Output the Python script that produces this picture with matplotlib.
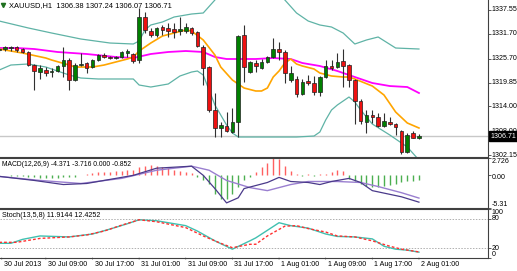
import matplotlib

matplotlib.use("Agg")
import matplotlib.pyplot as plt

plt.rcParams["font.family"] = ["Liberation Sans", "DejaVu Sans"]

W, H = 517, 271

# ---- candles (XAUUSD H1), bar 0 = 30 Jul 01:00 ----
opens = [1327.79, 1328.03, 1328.27, 1328.52, 1328.03, 1327.30, 1324.12, 1322.41, 1322.90, 1322.41,
         1322.66, 1323.88, 1325.34, 1320.46, 1324.12, 1324.61, 1323.63, 1325.34, 1326.56, 1326.05,
         1325.95, 1326.08, 1327.05, 1326.81, 1325.34, 1335.84, 1332.42, 1331.45, 1333.40, 1333.16,
         1332.91, 1332.42, 1332.42, 1333.16, 1332.18, 1328.52, 1323.63, 1313.14, 1308.75, 1309.23,
         1307.77, 1310.21, 1331.45, 1322.41, 1324.61, 1323.39, 1324.86, 1326.08, 1328.03, 1327.30,
         1320.46, 1320.71, 1317.04, 1320.22, 1319.73, 1317.53, 1321.19, 1323.88, 1323.63, 1325.10,
         1324.12, 1320.46, 1315.34, 1310.21, 1311.92, 1311.43, 1309.23, 1310.21, 1309.72, 1308.01,
         1302.89, 1307.53, 1306.38]
highs = [1328.52, 1328.76, 1328.76, 1328.76, 1328.27, 1327.54, 1324.37, 1324.12, 1323.63, 1323.39,
         1324.12, 1328.52, 1325.83, 1324.61, 1327.05, 1324.86, 1325.59, 1326.81, 1327.05, 1326.32,
         1326.32, 1327.54, 1328.03, 1327.05, 1338.04, 1337.06, 1333.16, 1333.40, 1333.89, 1334.38,
         1334.38, 1335.84, 1334.38, 1333.40, 1332.42, 1329.01, 1323.88, 1317.29, 1310.21, 1312.65,
         1313.63, 1331.45, 1333.89, 1325.10, 1325.34, 1325.59, 1326.32, 1330.71, 1329.74, 1327.79,
         1323.88, 1321.44, 1320.71, 1321.68, 1321.44, 1321.44, 1325.34, 1325.34, 1327.05, 1328.03,
         1324.37, 1320.71, 1315.82, 1313.14, 1313.14, 1312.41, 1312.41, 1311.43, 1309.97, 1308.26,
         1307.53, 1308.01, 1307.24]
lows = [1327.30, 1327.54, 1327.54, 1327.30, 1327.05, 1323.88, 1318.02, 1320.71, 1321.44, 1321.19,
        1322.41, 1321.19, 1318.02, 1320.22, 1323.88, 1322.17, 1323.39, 1325.10, 1325.83, 1325.59,
        1325.59, 1325.83, 1326.08, 1324.61, 1324.61, 1331.93, 1330.96, 1330.96, 1331.45, 1330.96,
        1330.71, 1331.45, 1331.93, 1331.45, 1328.52, 1319.24, 1312.65, 1306.55, 1306.55, 1307.77,
        1307.53, 1306.55, 1319.97, 1322.17, 1322.41, 1323.15, 1324.61, 1325.83, 1325.34, 1319.73,
        1319.97, 1316.31, 1316.80, 1319.24, 1316.80, 1316.56, 1320.95, 1322.90, 1323.39, 1318.75,
        1318.75, 1309.72, 1309.72, 1307.53, 1309.97, 1308.99, 1308.99, 1309.48, 1307.04, 1302.40,
        1302.65, 1306.30, 1306.07]
closes = [1328.03, 1328.52, 1328.52, 1327.79, 1327.30, 1324.12, 1322.66, 1323.39, 1322.17, 1322.66,
          1323.88, 1325.34, 1320.46, 1324.12, 1324.37, 1323.39, 1325.34, 1326.56, 1326.08, 1325.95,
          1326.05, 1327.30, 1327.54, 1325.10, 1335.84, 1332.67, 1331.45, 1333.16, 1332.67, 1332.42,
          1332.18, 1332.91, 1333.40, 1331.93, 1328.76, 1323.39, 1313.14, 1308.75, 1309.48, 1308.01,
          1310.21, 1331.20, 1323.63, 1324.86, 1323.88, 1324.86, 1326.08, 1328.03, 1327.30, 1322.17,
          1322.17, 1317.04, 1319.97, 1319.73, 1317.53, 1321.19, 1323.88, 1323.39, 1324.86, 1323.88,
          1320.46, 1315.34, 1310.45, 1311.92, 1311.43, 1309.23, 1310.45, 1309.72, 1308.99, 1302.89,
          1307.04, 1306.30, 1306.71]

# ---- indicator lines (bar index, value) ----
bb_upper_x = [0, 5, 9, 14, 19, 23, 24, 25, 26, 28, 30, 33, 35, 37, 39, 42, 45, 47, 49, 51, 53, 55, 57, 59, 61, 63, 65, 68, 72]
bb_upper_y = [1334.86, 1333.16, 1331.93, 1330.47, 1329.49, 1329.25, 1329.98, 1332.67, 1333.89, 1334.62,
              1335.84, 1336.57, 1336.82, 1339.99, 1344.87, 1347.31, 1347.31, 1343.65, 1339.99, 1336.82,
              1334.86, 1333.89, 1333.40, 1331.93, 1329.25, 1330.23, 1330.96, 1328.27, 1328.03]
bb_lower_x = [0, 2, 5, 8, 12, 14, 17, 23, 24, 26, 29, 31, 33, 34, 35, 36, 37, 38, 39, 40, 41, 51, 54, 55,
              56, 57, 58, 60, 61, 62, 64, 67, 70, 72]
bb_lower_y = [1322.90, 1324.12, 1324.37, 1323.63, 1321.68, 1320.95, 1320.71, 1320.71, 1319.24, 1318.75,
              1319.49, 1321.44, 1322.41, 1322.66, 1321.68, 1318.02, 1314.36, 1311.92, 1309.48, 1307.53,
              1306.55, 1306.55, 1306.79, 1307.77, 1310.70, 1313.14, 1314.36, 1316.31, 1315.09, 1313.14,
              1309.72, 1307.04, 1304.11, 1300.93]
ma_fast_x = [0, 4, 8, 9, 12, 13, 16, 18, 20, 22, 23, 24, 26, 28, 30, 32, 33, 35, 37, 38, 40, 42, 44, 45,
             46, 47, 48, 49, 50, 51, 52, 54, 55, 57, 59, 60, 61, 64, 66, 68, 70, 72]
ma_fast_y = [1328.03, 1327.05, 1325.83, 1325.34, 1324.12, 1323.63, 1323.63, 1324.12, 1324.86, 1325.59,
             1326.08, 1327.54, 1329.49, 1331.20, 1331.93, 1332.67, 1332.42, 1330.23, 1326.56, 1323.63,
             1320.46, 1318.51, 1317.78, 1317.78, 1318.51, 1321.19, 1322.66, 1324.61, 1325.59, 1324.37,
             1323.88, 1323.15, 1322.17, 1321.44, 1321.19, 1321.19, 1320.71, 1318.99, 1316.80, 1312.65,
             1309.97, 1308.75]
ma_slow_x = [0, 3, 6, 10, 15, 20, 23, 26, 29, 32, 35, 37, 39, 44, 47, 50, 52, 55, 58, 60, 64, 67, 70, 72]
ma_slow_y = [1328.27, 1328.27, 1328.03, 1327.30, 1326.81, 1326.08, 1325.83, 1326.81, 1327.30, 1327.54,
             1327.30, 1326.08, 1325.59, 1325.59, 1325.83, 1325.59, 1324.61, 1323.88, 1322.66, 1321.68,
             1319.73, 1318.99, 1318.75, 1317.29]

# ---- MACD(12,26,9) ----
macd_hist = [0.0, 0.0, -0.1, -0.1, -0.2, -0.3, -0.4, -0.5, -0.5, -0.5,
             -0.5, -0.4, -0.4, -0.3, 0.0, 0.2, 0.3, 0.4, 0.4, 0.5,
             0.6, 0.7, 0.8, 0.8, 1.2, 1.5, 1.6, 1.5, 1.3, 1.1,
             0.8, 0.6, 0.4, 0.3, -0.4, -0.8, -1.5, -3.0, -3.8, -3.9,
             -3.1, -1.9, -0.8, -0.4, 0.5, 1.3, 2.0, 2.7, 2.6, 1.5,
             0.6, 0.2, -0.2, 0.1, -0.2, 0.2, 0.1, 0.5, 0.8, 0.6,
             -0.6, -1.0, -1.4, -1.8, -2.0, -2.0, -1.8, -1.6, -1.4, -1.2,
             -1.0, -0.9, -0.852]
macd_main_x = [0, 6, 11, 15, 23, 27, 33, 35, 37, 39, 41, 42, 46, 48, 50, 53, 55, 57, 60, 62, 64, 69, 72]
macd_main_y = [-0.23, -0.88, -1.54, -1.37, -0.06, 1.09, 1.41, -0.06, -2.19, -4.49, -3.67, -2.19, -1.21,
               -0.39, -1.05, -1.21, -1.54, -1.05, -0.55, -1.21, -2.52, -3.51, -4.371]
macd_signal_x = [0, 7, 14, 21, 27, 33, 36, 39, 43, 46, 50, 53, 58, 62, 65, 69, 72]
macd_signal_y = [-0.23, -0.88, -1.37, -0.55, 0.76, 1.41, 0.76, -0.88, -2.03, -2.52, -1.54, -1.05, -1.05,
                 -1.21, -1.86, -2.85, -3.716]

# ---- Stochastic(13,5,8) ----
stoch_main_x = [0, 2, 4, 7, 12, 16, 19, 22, 24, 27, 32, 34, 37, 40, 43, 44, 48, 50, 53, 56, 58, 61, 64, 66, 68, 70, 72]
stoch_main_y = [30, 30, 38, 45, 43, 49, 59, 70, 78, 76, 66, 55, 35, 18, 35, 41, 72, 66, 61, 49, 44, 43, 39, 24, 18, 16, 11.9]
stoch_sig_x = [0, 3, 7, 12, 15, 18, 21, 24, 27, 32, 35, 38, 40, 43, 44, 46, 49, 51, 53, 56, 58, 61, 64, 67, 69, 72]
stoch_sig_y = [32, 32, 40, 43, 47, 55, 67, 78, 74, 62, 45, 30, 21, 28, 28, 45, 65, 66, 60, 53, 45, 43, 35, 24, 18, 12.4]

price_ticks = [1337.55, 1331.70, 1325.70, 1319.85, 1314.00, 1308.00, 1302.15]
price_labels = ["1337.55", "1331.70", "1325.70", "1319.85", "1314.00", "1308.00", "1302.15"]
last_price = 1306.71
date_bars = [0, 8, 16, 24, 32, 40, 48, 56, 64, 72]
date_labels = ["30 Jul 2013", "30 Jul 09:00", "30 Jul 17:00", "31 Jul 01:00", "31 Jul 09:00",
               "31 Jul 17:00", "1 Aug 01:00", "1 Aug 09:00", "1 Aug 17:00", "2 Aug 01:00"]

PX = 5.83          # pixels per bar
X0 = -0.8          # pixel position of bar 0
RIGHT = 488        # right edge of plotting area
XLIM = ((0 - X0) / PX, (RIGHT - X0) / PX)
FS = 5.1
BORDER = "#404040"


def rect(x0, y0, x1, y1):
    return [x0 / W, 1 - y1 / H, (x1 - x0) / W, (y1 - y0) / H]


def style(ax):
    ax.set_xlim(*XLIM)
    ax.set_xticks([])
    ax.spines["left"].set_visible(False)
    for s in ("top", "bottom", "right"):
        ax.spines[s].set_color(BORDER)
        ax.spines[s].set_linewidth(0.8)
    ax.yaxis.tick_right()
    ax.tick_params(axis="y", length=2.5, width=0.6, color=BORDER, labelright=False)


def rlabel(ax, y, text, va="center", dy=0):
    ax.annotate(text, xy=(1, y), xycoords=ax.get_yaxis_transform(), xytext=(2.6, dy),
                textcoords="offset points", fontsize=FS, va=va, ha="left", color="black",
                annotation_clip=False)


fig = plt.figure(figsize=(W / 100, H / 100), dpi=100)
ax = fig.add_axes(rect(0, 0, RIGHT, 157))
ax_macd = fig.add_axes(rect(0, 158, RIGHT, 208))
ax_sto = fig.add_axes(rect(0, 209, RIGHT, 258))
for a in (ax, ax_macd, ax_sto):
    style(a)
ax.spines["top"].set_visible(False)

# main chart
ax.set_ylim(1301.67, 1339.99)
ax.axhline(last_price, color="#c8c8c8", lw=1.0, zorder=1)
ax.plot(bb_upper_x, bb_upper_y, color="#5fb3a6", lw=0.9, zorder=2)
ax.plot(bb_lower_x, bb_lower_y, color="#5fb3a6", lw=0.9, zorder=2)
ax.plot(ma_slow_x, ma_slow_y, color="#ff00ff", lw=1.3, zorder=2)
ax.plot(ma_fast_x, ma_fast_y, color="#ffa500", lw=1.2, zorder=2)

for i, (o, h, l, c) in enumerate(zip(opens, highs, lows, closes)):
    ax.vlines(i, l, h, color="#303030", lw=0.8, zorder=3)
    col = "#008000" if c >= o else "#ee1111"
    lo, hi = min(o, c), max(o, c)
    ax.bar(i, max(hi - lo, 0.12), bottom=lo, width=0.62, color=col,
           edgecolor="#202020", linewidth=0.5, zorder=4)

ax.set_yticks(price_ticks)
for v, t in zip(price_ticks, price_labels):
    rlabel(ax, v, t)
ax.annotate(f"{last_price:.2f}", xy=(1, last_price), xycoords=ax.get_yaxis_transform(),
            xytext=(1.6, 0), textcoords="offset points", fontsize=FS, va="center", ha="left",
            color="white", annotation_clip=False,
            bbox=dict(boxstyle="square,pad=0.2", fc="black", ec="black"))
ax.text(0.018, 0.985, "XAUUSD,H1  1306.38 1307.24 1306.07 1306.71", transform=ax.transAxes,
        fontsize=5.4, va="top", ha="left")
ax.plot([0.006], [0.965], marker="v", ms=3, color="#207020", transform=ax.transAxes, clip_on=False)

# MACD
ax_macd.set_ylim(-5.31, 2.726)
for i, v in enumerate(macd_hist):
    ax_macd.vlines(i, 0, v, color="#ff6060" if v > 0 else "#4caf50", lw=1.0)
ax_macd.plot(macd_signal_x, macd_signal_y, color="#9a7fd0", lw=1.0)
ax_macd.plot(macd_main_x, macd_main_y, color="#4a3a8a", lw=0.9)
ax_macd.set_yticks([2.726, 0.0, -5.31])
rlabel(ax_macd, 2.726, "2.726", va="top")
rlabel(ax_macd, 0.0, "0.00", dy=-1.5)
rlabel(ax_macd, -5.31, "-5.31", va="bottom")
ax_macd.text(0.004, 0.95, "MACD(12,26,9) -4.371 -3.716 0.000 -0.852", transform=ax_macd.transAxes,
             fontsize=4.9, va="top", ha="left")

# Stochastic
ax_sto.set_ylim(0, 100)
for lv in (80, 20):
    ax_sto.axhline(lv, color="#b0b0b0", lw=0.7, ls=(0, (1.5, 1.5)))
ax_sto.plot(stoch_main_x, stoch_main_y, color="#40c0b0", lw=1.0)
ax_sto.plot(stoch_sig_x, stoch_sig_y, color="#ff3030", lw=1.0, ls=(0, (2, 1.5)))
ax_sto.set_yticks([100, 80, 20, 0])
rlabel(ax_sto, 100, "100", va="top")
rlabel(ax_sto, 80, "80")
rlabel(ax_sto, 20, "20")
rlabel(ax_sto, 0, "0", va="bottom")
ax_sto.text(0.004, 0.93, "Stoch(13,5,8) 11.9144 12.4252", transform=ax_sto.transAxes,
            fontsize=FS, va="top", ha="left")

# date axis
for b, t in zip(date_bars, date_labels):
    xb = max(b, XLIM[0] + 0.3)
    ax_sto.annotate("", xy=(xb, 0), xycoords=("data", "axes fraction"), xytext=(xb, -0.08),
                    textcoords=("data", "axes fraction"),
                    arrowprops=dict(arrowstyle="-", color=BORDER, lw=0.6), annotation_clip=False)
    ax_sto.annotate(t, xy=(xb, 0), xycoords=("data", "axes fraction"), xytext=(1.5, -2),
                    textcoords="offset points", fontsize=FS, va="top", ha="left",
                    annotation_clip=False)

fig.savefig("out.png", dpi=100)
plt.close(fig)
